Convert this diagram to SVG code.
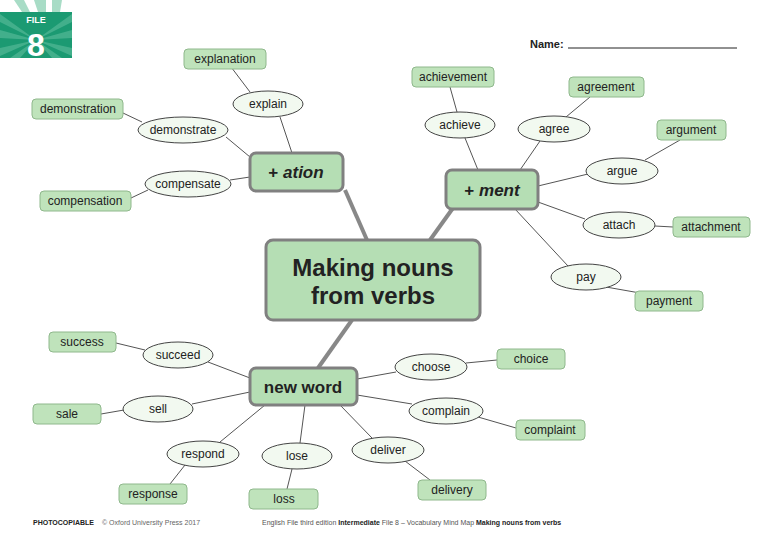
<svg xmlns="http://www.w3.org/2000/svg" width="768" height="543" viewBox="0 0 768 543">
<style>
text{font-family:"Liberation Sans",Arial,sans-serif;fill:#222}
.t{font-size:12px;text-anchor:middle}
.r{fill:#bfe3bb;stroke:#8fb88c;stroke-width:1}
.e{fill:#f2f9f0;stroke:#444;stroke-width:1}
.h{fill:#b5deb4;stroke:#808080;stroke-width:3}
.thin{stroke:#555;stroke-width:1;fill:none}
.thick{stroke:#888;stroke-width:4;fill:none}
.hb{font-size:17px;font-weight:bold;text-anchor:middle}
</style>
<rect width="768" height="543" fill="#fff"/>
<g id="logo">
<rect x="0" y="12" width="72" height="46" fill="#1b9a72"/>
<g fill="#4cb592" opacity="0.8">
<polygon points="36,40 0,14 0,22"/><polygon points="36,40 0,30 0,38"/><polygon points="36,40 0,48 0,56"/>
<polygon points="36,40 72,14 72,22"/><polygon points="36,40 72,30 72,38"/><polygon points="36,40 72,48 72,56"/>
<polygon points="36,40 10,58 20,58"/><polygon points="36,40 52,58 62,58"/>
</g>
<g fill="#a8dcc6"><polygon points="14,0 22,12 30,12 24,0"/><polygon points="34,0 38,12 46,12 46,0"/><polygon points="52,0 52,12 60,12 62,0"/></g>
<text x="36" y="23" font-size="9" font-weight="bold" text-anchor="middle" style="fill:#fff">FILE</text>
<text x="36" y="56" font-size="32" font-weight="bold" text-anchor="middle" style="fill:#fff">8</text>
</g>
<g id="name"><text x="530" y="48" font-size="11" font-weight="bold">Name:</text><line x1="568" y1="48" x2="737" y2="48" stroke="#222"/></g>
<g id="connectors">
<line class="thick" x1="345" y1="190" x2="367" y2="240"/>
<line class="thick" x1="453" y1="208" x2="430" y2="240"/>
<line class="thick" x1="352" y1="320" x2="318" y2="368"/>
<g class="thin">
<line x1="225" y1="59" x2="250" y2="92"/><line x1="280" y1="117" x2="292" y2="153"/>
<line x1="123" y1="113" x2="142" y2="122"/><line x1="226" y1="137" x2="250" y2="157"/>
<line x1="131" y1="198" x2="148" y2="190"/><line x1="230" y1="180" x2="250" y2="177"/>
<line x1="450" y1="87" x2="457" y2="112"/><line x1="465" y1="138" x2="478" y2="170"/>
<line x1="590" y1="97" x2="566" y2="117"/><line x1="540" y1="141" x2="520" y2="170"/>
<line x1="680" y1="140" x2="645" y2="160"/><line x1="588" y1="174" x2="538" y2="186"/>
<line x1="655" y1="226" x2="673" y2="227"/><line x1="585" y1="219" x2="538" y2="202"/>
<line x1="606" y1="287" x2="640" y2="293"/><line x1="568" y1="266" x2="515" y2="209"/>
<line x1="116" y1="343" x2="145" y2="350"/><line x1="208" y1="362" x2="250" y2="378"/>
<line x1="101" y1="414" x2="124" y2="410"/><line x1="192" y1="404" x2="250" y2="392"/>
<line x1="185" y1="465" x2="170" y2="484"/><line x1="220" y1="442" x2="265" y2="405"/>
<line x1="292" y1="469" x2="287" y2="489"/><line x1="300" y1="443" x2="305" y2="405"/>
<line x1="405" y1="461" x2="430" y2="480"/><line x1="372" y1="438" x2="340" y2="405"/>
<line x1="466" y1="363" x2="497" y2="360"/><line x1="396" y1="372" x2="357" y2="379"/>
<line x1="478" y1="417" x2="516" y2="428"/><line x1="412" y1="404" x2="357" y2="395"/>
</g>
</g>
<g id="center"><rect class="h" x="266" y="240" width="214" height="80" rx="7"/>
<text x="373" y="276" font-size="24" font-weight="bold" text-anchor="middle">Making nouns</text>
<text x="373" y="304" font-size="24" font-weight="bold" text-anchor="middle">from verbs</text></g>
<g id="ation"><rect class="h" x="250" y="153" width="93" height="38" rx="6"/><text x="296" y="178" class="hb">+ <tspan font-style="italic">ation</tspan></text></g>
<g id="ment"><rect class="h" x="446" y="170" width="92" height="39" rx="6"/><text x="492" y="196" class="hb">+ <tspan font-style="italic">ment</tspan></text></g>
<g id="newword"><rect class="h" x="250" y="368" width="107" height="37" rx="6"/><text x="303" y="393" class="hb">new word</text></g>
<g id="explanation"><rect class="r" x="184" y="49" width="82" height="20" rx="4"/><text class="t" x="225" y="63">explanation</text></g>
<g id="explain"><ellipse class="e" cx="268" cy="104" rx="35" ry="13"/><text class="t" x="268" y="108">explain</text></g>
<g id="demonstration"><rect class="r" x="32" y="99" width="91" height="20" rx="4"/><text class="t" x="78" y="113">demonstration</text></g>
<g id="demonstrate"><ellipse class="e" cx="183" cy="130" rx="45" ry="13"/><text class="t" x="183" y="134">demonstrate</text></g>
<g id="compensation"><rect class="r" x="40" y="191" width="91" height="20" rx="4"/><text class="t" x="85" y="205">compensation</text></g>
<g id="compensate"><ellipse class="e" cx="188" cy="184" rx="43" ry="13"/><text class="t" x="188" y="188">compensate</text></g>
<g id="achievement"><rect class="r" x="412" y="67" width="82" height="20" rx="4"/><text class="t" x="453" y="81">achievement</text></g>
<g id="achieve"><ellipse class="e" cx="460" cy="125" rx="35" ry="13"/><text class="t" x="460" y="129">achieve</text></g>
<g id="agreement"><rect class="r" x="569" y="77" width="75" height="20" rx="4"/><text class="t" x="606" y="91">agreement</text></g>
<g id="agree"><ellipse class="e" cx="554" cy="129" rx="36" ry="13"/><text class="t" x="554" y="133">agree</text></g>
<g id="argument"><rect class="r" x="657" y="120" width="69" height="20" rx="4"/><text class="t" x="691" y="134">argument</text></g>
<g id="argue"><ellipse class="e" cx="622" cy="171" rx="36" ry="13"/><text class="t" x="622" y="175">argue</text></g>
<g id="attachment"><rect class="r" x="673" y="217" width="77" height="20" rx="4"/><text class="t" x="711" y="231">attachment</text></g>
<g id="attach"><ellipse class="e" cx="619" cy="225" rx="36" ry="13"/><text class="t" x="619" y="229">attach</text></g>
<g id="payment"><rect class="r" x="635" y="291" width="68" height="20" rx="4"/><text class="t" x="669" y="305">payment</text></g>
<g id="pay"><ellipse class="e" cx="586" cy="277" rx="35" ry="13"/><text class="t" x="586" y="281">pay</text></g>
<g id="success"><rect class="r" x="49" y="332" width="67" height="20" rx="4"/><text class="t" x="82" y="346">success</text></g>
<g id="succeed"><ellipse class="e" cx="178" cy="355" rx="35" ry="13"/><text class="t" x="178" y="359">succeed</text></g>
<g id="sale"><rect class="r" x="33" y="404" width="68" height="20" rx="4"/><text class="t" x="67" y="418">sale</text></g>
<g id="sell"><ellipse class="e" cx="158" cy="409" rx="35" ry="13"/><text class="t" x="158" y="413">sell</text></g>
<g id="response"><rect class="r" x="119" y="484" width="68" height="20" rx="4"/><text class="t" x="153" y="498">response</text></g>
<g id="respond"><ellipse class="e" cx="203" cy="454" rx="36" ry="13"/><text class="t" x="203" y="458">respond</text></g>
<g id="loss"><rect class="r" x="249" y="489" width="69" height="20" rx="4"/><text class="t" x="284" y="503">loss</text></g>
<g id="lose"><ellipse class="e" cx="297" cy="456" rx="35" ry="13"/><text class="t" x="297" y="460">lose</text></g>
<g id="delivery"><rect class="r" x="418" y="480" width="68" height="20" rx="4"/><text class="t" x="452" y="494">delivery</text></g>
<g id="deliver"><ellipse class="e" cx="388" cy="450" rx="36" ry="13"/><text class="t" x="388" y="454">deliver</text></g>
<g id="choice"><rect class="r" x="497" y="349" width="68" height="20" rx="4"/><text class="t" x="531" y="363">choice</text></g>
<g id="choose"><ellipse class="e" cx="431" cy="367" rx="36" ry="13"/><text class="t" x="431" y="371">choose</text></g>
<g id="complaint"><rect class="r" x="516" y="420" width="69" height="20" rx="4"/><text class="t" x="550" y="434">complaint</text></g>
<g id="complain"><ellipse class="e" cx="446" cy="411" rx="37" ry="13"/><text class="t" x="446" y="415">complain</text></g>
<g id="footer" font-size="7">
<text x="33" y="525" font-size="7" font-weight="bold">PHOTOCOPIABLE</text>
<text x="102" y="525" font-size="7" style="fill:#666">© Oxford University Press 2017</text>
<text x="262" y="525" font-size="7" style="fill:#555">English File third edition <tspan font-weight="bold" style="fill:#222">Intermediate</tspan>  File 8 – Vocabulary Mind Map <tspan font-weight="bold" style="fill:#222">Making nouns from verbs</tspan></text>
</g>
</svg>
